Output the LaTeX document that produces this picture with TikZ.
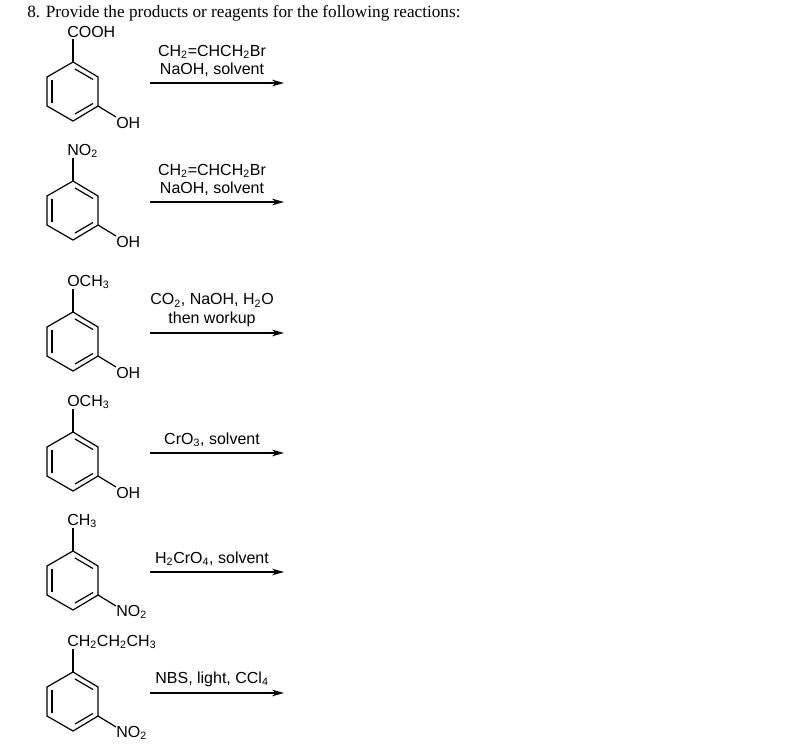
\documentclass[tikz,border=0pt]{standalone}
\usepackage{fontspec}
\setmainfont{Liberation Serif}
\newfontfamily\chem{Liberation Sans}
\usetikzlibrary{arrows.meta,calc}
\newcommand{\sbs}[1]{\textsubscript{#1}}
\tikzset{bond/.style={line width=0.9pt},
 lbl/.style={font=\chem\fontsize{12}{13}\selectfont, inner sep=0pt, anchor=west},
 rg/.style={font=\chem\fontsize{12}{14}\selectfont, align=center, inner sep=0pt},
 rarrow/.style={line width=0.8pt,-{Stealth[length=9pt,width=5pt]}}}
\newcommand{\rxn}[5]{%
 \begin{scope}[shift={(0,#1)}]
  \coordinate (t#5) at (73,-21); \coordinate (ur#5) at (98,-6);
  \coordinate (lr#5) at (98,23); \coordinate (b#5) at (73,38);
  \coordinate (ll#5) at (47,23); \coordinate (ul#5) at (47,-6);
  \draw[bond] (t#5)--(ur#5)--(lr#5)--(b#5)--(ll#5)--(ul#5)--cycle;
  \draw[bond] (75,-14) -- (93,-3.5);
  \draw[bond] (52,-3) -- (52,20);
  \draw[bond] (93,20.5) -- (75,31);
  \draw[bond] (t#5) -- (73,-44);
  \node[lbl] (top#5) at (67,-51) {#2};
  \draw[bond] (lr#5) -- (116,34);
  \node[lbl] (bot#5) at (116,40) {#3};
  \coordinate (a#5) at (150,0); \coordinate (e#5) at (284,0);
  \draw[rarrow] (a#5) -- (e#5);
  \node[rg,anchor=south] (r#5) at (212,-6) {#4};
 \end{scope}}
\begin{document}
\begin{tikzpicture}[x=0.75pt,y=-0.75pt]
\useasboundingbox (0,0) rectangle (793,746);
\node[anchor=west,inner sep=0pt,font=\fontsize{12.9}{14}\selectfont] (title) at (27,13) {8. Provide the products or reagents for the following reactions:};
\rxn{83}{COOH}{OH}{CH\sbs{2}=CHCH\sbs{2}Br\\NaOH, solvent}{1}
\rxn{202}{NO\sbs{2}}{OH}{CH\sbs{2}=CHCH\sbs{2}Br\\NaOH, solvent}{2}
\rxn{333}{OCH\sbs{3}}{OH}{CO\sbs{2}, NaOH, H\sbs{2}O\\then workup}{3}
\rxn{453}{OCH\sbs{3}}{OH}{CrO\sbs{3}, solvent}{4}
\rxn{572}{CH\sbs{3}}{NO\sbs{2}}{H\sbs{2}CrO\sbs{4}, solvent}{5}
\rxn{693}{CH\sbs{2}CH\sbs{2}CH\sbs{3}}{NO\sbs{2}}{NBS, light, CCl\sbs{4}}{6}
\end{tikzpicture}
\end{document}
